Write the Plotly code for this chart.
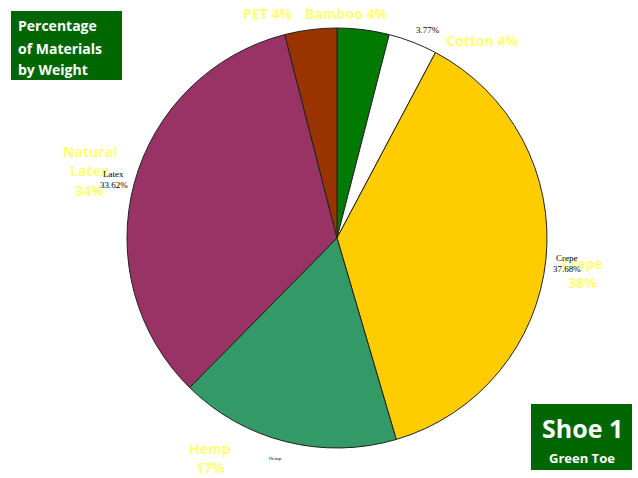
import plotly.graph_objects as go

labels = ["Bamboo", "Cotton", "Crepe", "Hemp", "Natural Latex", "PET"]
values = [4.0, 3.77, 37.68, 16.93, 33.62, 4.0]
colors = ["#007A00", "#FFFFFF", "#FFCC00", "#339966", "#993366", "#993300"]

W, H = 638, 478

def fx(x):
    return x / W

def fy(y):
    return 1 - y / H

fig = go.Figure(go.Pie(
    labels=labels, values=values, sort=False, direction="clockwise", rotation=0,
    marker=dict(colors=colors, line=dict(color="#222222", width=1)),
    textinfo="none", hoverinfo="label+percent", showlegend=False,
    domain=dict(x=[fx(127), fx(547)], y=[fy(448), fy(28)]),
))

ann = []
yel = "#FFFF77"
def add(x, y, text, size=14, color=yel, family="Open Sans", bold=True, xanchor="center"):
    ann.append(dict(x=fx(x), y=fy(y), xref="paper", yref="paper", xanchor=xanchor, yanchor="middle",
                    text=f"<b>{text}</b>" if bold else text,
                    showarrow=False, font=dict(size=size, color=color, family=family), align="center"))

add(267, 13, "PET 4%")
add(346, 13, "Bamboo 4%")
add(482, 41, "Cotton 4%")
add(90, 152, "Natural")
add(90, 171, "Latex")
add(90, 190, "34%")
add(582, 263, "Crepe")
add(582, 282, "38%")
add(210, 448, "Hemp")
add(210, 467, "17%")
add(428, 30, "3.77%", size=9, color="black", family="Liberation Serif", bold=False)
add(114, 174, "Latex", size=9, color="black", family="Liberation Serif", bold=False)
add(114, 185, "33.62%", size=9, color="black", family="Liberation Serif", bold=False)
add(567, 258, "Crepe", size=9, color="black", family="Liberation Serif", bold=False)
add(567, 269, "37.68%", size=9, color="black", family="Liberation Serif", bold=False)
add(275, 458, "Hemp", size=5, color="black", family="Liberation Serif", bold=False)

add(16, 26, "Percentage", size=14, color="white", xanchor="left")
add(16, 48, "of Materials", size=14, color="white", xanchor="left")
add(16, 69, "by Weight", size=14, color="white", xanchor="left")
add(582, 428, "Shoe 1", size=25, color="white")
add(582, 458, "Green Toe", size=13, color="white")

shapes = [
    dict(type="rect", xref="paper", yref="paper", x0=fx(11), x1=fx(122), y0=fy(80), y1=fy(11),
         fillcolor="#006600", line=dict(width=0), layer="below"),
    dict(type="rect", xref="paper", yref="paper", x0=fx(531), x1=fx(632), y0=fy(470), y1=fy(404),
         fillcolor="#006600", line=dict(width=0), layer="below"),
]

fig.update_layout(width=W, height=H, margin=dict(l=0, r=0, t=0, b=0),
                  paper_bgcolor="white", plot_bgcolor="white",
                  annotations=ann, shapes=shapes)
fig.write_html("out.html", config={"displayModeBar": False},
               post_script="document.body.style.margin='0';document.body.style.overflow='hidden';")
